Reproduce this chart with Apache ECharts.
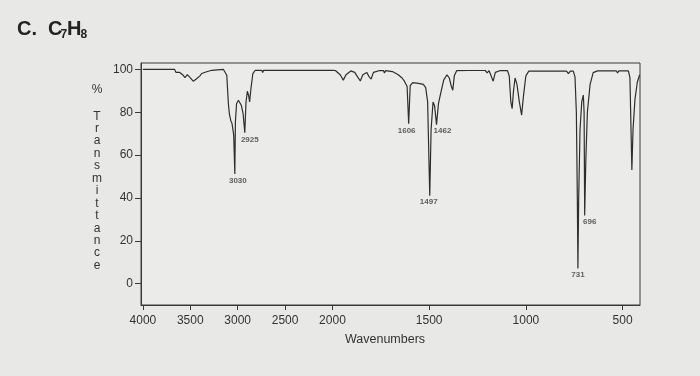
<!DOCTYPE html>
<html>
<head>
<meta charset="utf-8">
<title>C7H8 IR spectrum</title>
<script src="https://cdn.jsdelivr.net/npm/echarts@6/dist/echarts.min.js"></script>
<style>
  html, body { margin: 0; padding: 0; background: #e8e8e6; }
  #irchart { width: 700px; height: 376px; }
</style>
</head>
<body>
<div id="irchart"></div>
<script>
// wavenumbers (cm-1) and % transmittance
const wavenumbers = [
  4000, 3800, 3665, 3650, 3610, 3575, 3556, 3532, 3511, 3469, 3440, 3398, 3380, 3327, 3274, 3150,
  3115, 3098, 3088, 3074, 3060, 3042, 3030, 3024, 3012, 2992, 2962, 2943, 2925, 2912, 2898, 2885,
  2874, 2860, 2840, 2815, 2745, 2736, 2727, 2180, 2165, 2150, 2000,
  1985, 1960, 1944, 1930, 1905, 1885, 1870, 1856, 1843, 1822, 1812, 1800, 1788, 1760, 1736, 1731,
  1726, 1690, 1660, 1640, 1628, 1614, 1606, 1598, 1585, 1555, 1530, 1518, 1508, 1497, 1490, 1480,
  1472, 1462, 1452, 1440, 1425, 1408, 1396, 1385, 1378, 1370, 1358, 1300, 1210, 1200, 1190, 1182,
  1169, 1158, 1135, 1095, 1086, 1078, 1071, 1064, 1056, 1046, 1034, 1022, 1012, 1000, 985, 885,
  876, 868, 790, 780, 770, 755, 746, 739, 734, 731, 727, 720, 711, 703, 699, 696, 690, 682, 668,
  652, 630, 606, 600, 594, 532, 526, 520, 470, 462, 452, 446, 436, 424, 412
];
const transmittance = [
  100, 100, 100, 98.6, 98.6, 97.3, 96.1, 97.6, 96.6, 94.5, 95.4, 97, 98.1, 98.9, 99.6, 100,
  97.3, 84, 79.4, 76.3, 74.8, 69.4, 51.2, 75.5, 84, 85.6, 83.3, 79.4, 70.4, 84.8, 89.8, 88,
  84.8, 91, 98, 99.6, 99.6, 98.5, 99.6, 99.6, 98.8, 99.6, 99.6,
  99.5, 97.5, 95, 97.5, 99.3, 98.6, 96.5, 94.6, 97.5, 98.6, 96.8, 95.5, 98.6, 99.4, 99.4, 98.3,
  99.4, 99, 97.5, 96, 94.5, 92, 74.6, 92.5, 93.8, 93.5, 93, 91.5, 85, 41, 72, 84.8,
  83, 74.2, 84, 89, 95, 97.5, 96, 92, 90.3, 97, 99.4, 99.5, 99.5, 98.4, 99.4, 98.6,
  94.5, 98.6, 99.4, 99.4, 97, 85, 81.7, 90, 96, 93, 85, 78.7, 88, 97, 99.2, 99.2,
  98.3, 99.2, 99.2, 98, 99.2, 99.2, 96.5, 80, 40, 7.1, 40, 72, 85, 88, 80, 31.8, 58, 80, 93,
  98.5, 99.3, 99.3, 98.6, 99.3, 99.3, 98.3, 99.3, 99.3, 96, 53, 72, 86, 94, 97.5
];
const peakMarks = [3030, 2925, 1606, 1497, 1462, 731, 696];
const xTicks = [4000, 3500, 3000, 2500, 2000, 1500, 1000, 500];
const yTicks = [0, 20, 40, 60, 80, 100];

// the x scale is compressed above 2000 cm-1 (like the instrument printout)
const BREAK = 2000;
const HIGH = 0.49;
function toAxis(w) { return w <= BREAK ? w : BREAK + (w - BREAK) * HIGH; }
function fromAxis(u) { return u <= BREAK ? u : BREAK + (u - BREAK) / HIGH; }

const FONT = '"Liberation Sans", Arial, sans-serif';
const INK = '#2e2e2e';

// small nudges so the peak numbers sit like on the printout
const labelShift = { 3030: 3, 2925: 5, 1606: -2, 1497: -1, 1462: 6, 731: 0, 696: 5 };

const myChart = echarts.init(document.getElementById('irchart'));
const options = {
  animation: false,
  backgroundColor: '#e8e8e6',
  textStyle: { fontFamily: FONT },
  grid: {
    left: 141,
    right: 60,
    top: 63,
    bottom: 71,
    show: true,
    backgroundColor: '#ebebe9',
    borderColor: '#3a3a3a',
    borderWidth: 1
  },
  xAxis: {
    type: 'value',
    inverse: true,
    min: toAxis(410),
    max: toAxis(4020),
    axisLine: { show: true, onZero: false, lineStyle: { color: '#3a3a3a', width: 1 } },
    axisTick: { show: true, length: 5, customValues: xTicks.map(toAxis), lineStyle: { color: '#3a3a3a' } },
    axisLabel: {
      customValues: xTicks.map(toAxis),
      margin: 10,
      fontSize: 12,
      color: '#333',
      formatter: function (v) { return String(Math.round(fromAxis(v))); }
    },
    splitLine: { show: false }
  },
  yAxis: {
    type: 'value',
    min: -10,
    max: 103,
    axisLine: { show: true, onZero: false, lineStyle: { color: '#3a3a3a', width: 1 } },
    axisTick: { show: true, length: 6, customValues: yTicks, lineStyle: { color: '#3a3a3a' } },
    axisLabel: { customValues: yTicks, margin: 8, fontSize: 12, color: '#333' },
    splitLine: { show: false }
  },
  graphic: [
    { type: 'text', x: 17, y: 29, style: { text: 'C.', font: 'bold 20px ' + FONT, fill: '#222', verticalAlign: 'middle' } },
    { type: 'text', x: 48, y: 29, style: { text: 'C', font: 'bold 20px ' + FONT, fill: '#222', verticalAlign: 'middle' } },
    { type: 'text', x: 60.5, y: 35, style: { text: '7', font: 'bold 12px ' + FONT, fill: '#222', verticalAlign: 'middle' } },
    { type: 'text', x: 67, y: 29, style: { text: 'H', font: 'bold 20px ' + FONT, fill: '#222', verticalAlign: 'middle' } },
    { type: 'text', x: 80.5, y: 35, style: { text: '8', font: 'bold 12px ' + FONT, fill: '#222', verticalAlign: 'middle' } },
    { type: 'text', x: 97, y: 90, style: { text: '%', font: '12px ' + FONT, fill: '#333', align: 'center', verticalAlign: 'middle' } },
    {
      type: 'text', x: 97, y: 110,
      style: {
        text: 'Transmittance'.split('').join('\n'),
        font: '12px ' + FONT, lineHeight: 12.45, fill: '#333', align: 'center', verticalAlign: 'top'
      }
    },
    { type: 'text', x: 385, y: 340, style: { text: 'Wavenumbers', font: '12.5px ' + FONT, fill: '#333', align: 'center', verticalAlign: 'middle' } }
  ],
  series: [
    {
      name: 'spectrum',
      type: 'line',
      symbol: 'none',
      silent: true,
      lineStyle: { color: INK, width: 1.2 },
      data: wavenumbers.map(function (w, i) { return [toAxis(w), transmittance[i]]; })
    },
    {
      name: 'peaks',
      type: 'scatter',
      symbolSize: 0,
      silent: true,
      itemStyle: { color: 'rgba(0,0,0,0)' },
      label: {
        show: true,
        position: 'bottom',
        distance: 2.5,
        fontSize: 8,
        fontWeight: 'bold',
        color: '#3a3a3a',
        formatter: function (p) { return p.name; }
      },
      data: peakMarks.map(function (w) {
        return {
          name: String(w),
          value: [toAxis(w), transmittance[wavenumbers.indexOf(w)]],
          label: { offset: [labelShift[w], 0] }
        };
      })
    }
  ]
};
myChart.setOption(options, true);
</script>
</body>
</html>
